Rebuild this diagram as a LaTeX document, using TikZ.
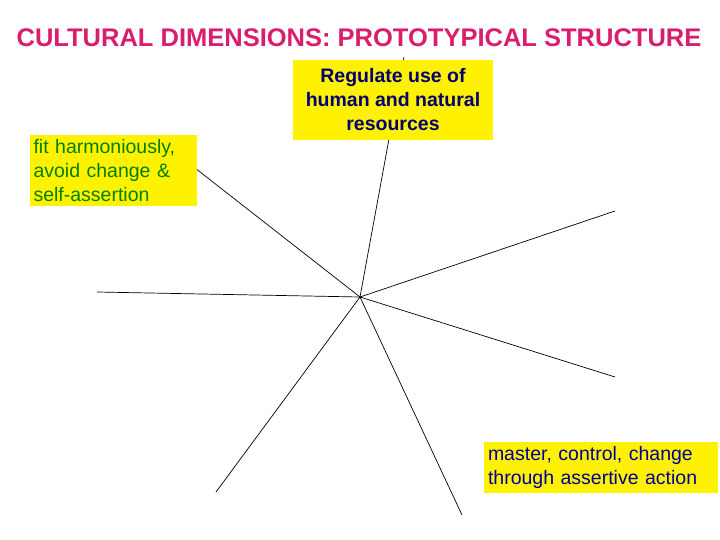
\documentclass[tikz,border=0pt]{standalone}
\usepackage{fontspec}
\setmainfont{Liberation Sans}
\begin{document}
\begin{tikzpicture}[x=1pt,y=-1pt,
  ln/.style={draw=black,line width=0.7pt},
  ybox/.style={fill=yellow,inner sep=0pt,align=center,font=\fontsize{19.5}{24}\selectfont}]
\useasboundingbox (0,0) rectangle (720,540);
\node[font=\bfseries\fontsize{25.5}{30}\selectfont,text=magenta!70!red!90!black] (title) at (359,38) {CULTURAL DIMENSIONS: PROTOTYPICAL STRUCTURE};
\coordinate (c) at (360,297);
\coordinate (p1) at (404,57);
\coordinate (p2) at (195,168);
\coordinate (p3) at (97,292);
\coordinate (p4) at (615,211);
\coordinate (p5) at (615,377);
\coordinate (p6) at (462,515);
\coordinate (p7) at (216,492);
\foreach \p in {p1,p2,p3,p4,p5,p6,p7} \draw[ln] (c) -- (\p);
\node[ybox,minimum width=200,minimum height=80,text=blue!45!black,font=\bfseries\fontsize{19.5}{24}\selectfont] (b1) at (393,100) {Regulate use of\\human and natural\\resources};
\node[ybox,minimum width=167,minimum height=71,align=left,text=green!50!black,text width=160] (b2) at (113.5,170.5) {fit harmoniously,\\avoid change \&\\self-assertion};
\node[ybox,minimum width=234,minimum height=51,align=left,text=blue!60!black,text width=226] (b3) at (601,467) {master, control, change\\through assertive action};
\end{tikzpicture}
\end{document}
